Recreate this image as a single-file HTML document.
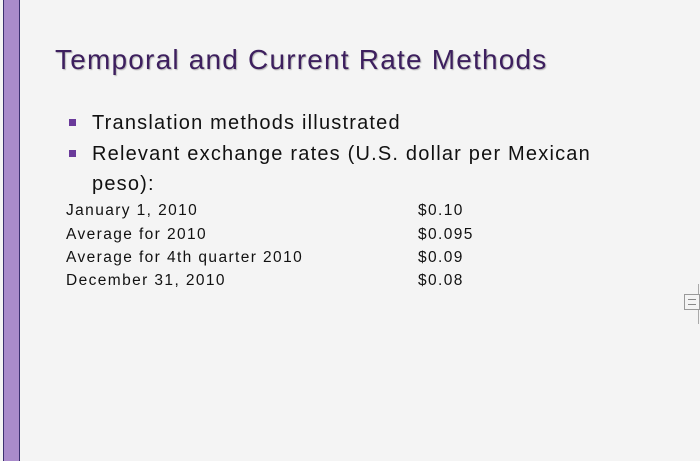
<!DOCTYPE html>
<html><head><meta charset="utf-8"><style>
html,body{margin:0;padding:0}
body{width:700px;height:461px;background:#f4f4f4;position:relative;overflow:hidden;font-family:"Liberation Sans",sans-serif}
.bar{position:absolute;left:3px;top:0;width:15px;height:461px;background:#a98bcb;border-left:1px solid #3b3070;border-right:1px solid #3b3070}
.title{position:absolute;left:55px;top:44px;font-size:28px;color:#3d1f5e;letter-spacing:1.2px;text-shadow:1px 1px 1px rgba(0,0,0,0.25);white-space:nowrap}
.b{position:absolute;font-size:20px;color:#111;letter-spacing:1.2px;white-space:nowrap}
.sq{position:absolute;width:7px;height:7px;background:#6a3a9a}
.t{position:absolute;font-size:15.5px;color:#111;letter-spacing:1.4px;white-space:nowrap}
.icon{position:absolute;left:684px;top:294px;width:14px;height:14px;border:1px solid #999;background:#f4f4f4}
.icon:before{content:"";position:absolute;left:3px;top:4px;width:8px;height:4px;border-top:1px solid #888;border-bottom:1px solid #888}
.vline{position:absolute;left:698px;top:284px;width:1px;height:40px;background:#aaa}
</style></head><body>
<div class="bar"></div>
<div class="title">Temporal and Current Rate Methods</div>
<div class="sq" style="left:69px;top:119px"></div>
<div class="b" style="left:92px;top:112px">Translation methods illustrated</div>
<div class="sq" style="left:69px;top:150px"></div>
<div class="b" style="left:92px;top:143px">Relevant exchange rates (U.S. dollar per Mexican</div>
<div class="b" style="left:92px;top:173px">peso):</div>
<div class="t" style="left:66px;top:202px">January 1, 2010</div>
<div class="t" style="left:418px;top:202px">$0.10</div>
<div class="t" style="left:66px;top:226px">Average for 2010</div>
<div class="t" style="left:418px;top:226px">$0.095</div>
<div class="t" style="left:66px;top:249px">Average for 4th quarter 2010</div>
<div class="t" style="left:418px;top:249px">$0.09</div>
<div class="t" style="left:66px;top:272px">December 31, 2010</div>
<div class="t" style="left:418px;top:272px">$0.08</div>
<div class="vline"></div>
<div class="icon"></div>
</body></html>
